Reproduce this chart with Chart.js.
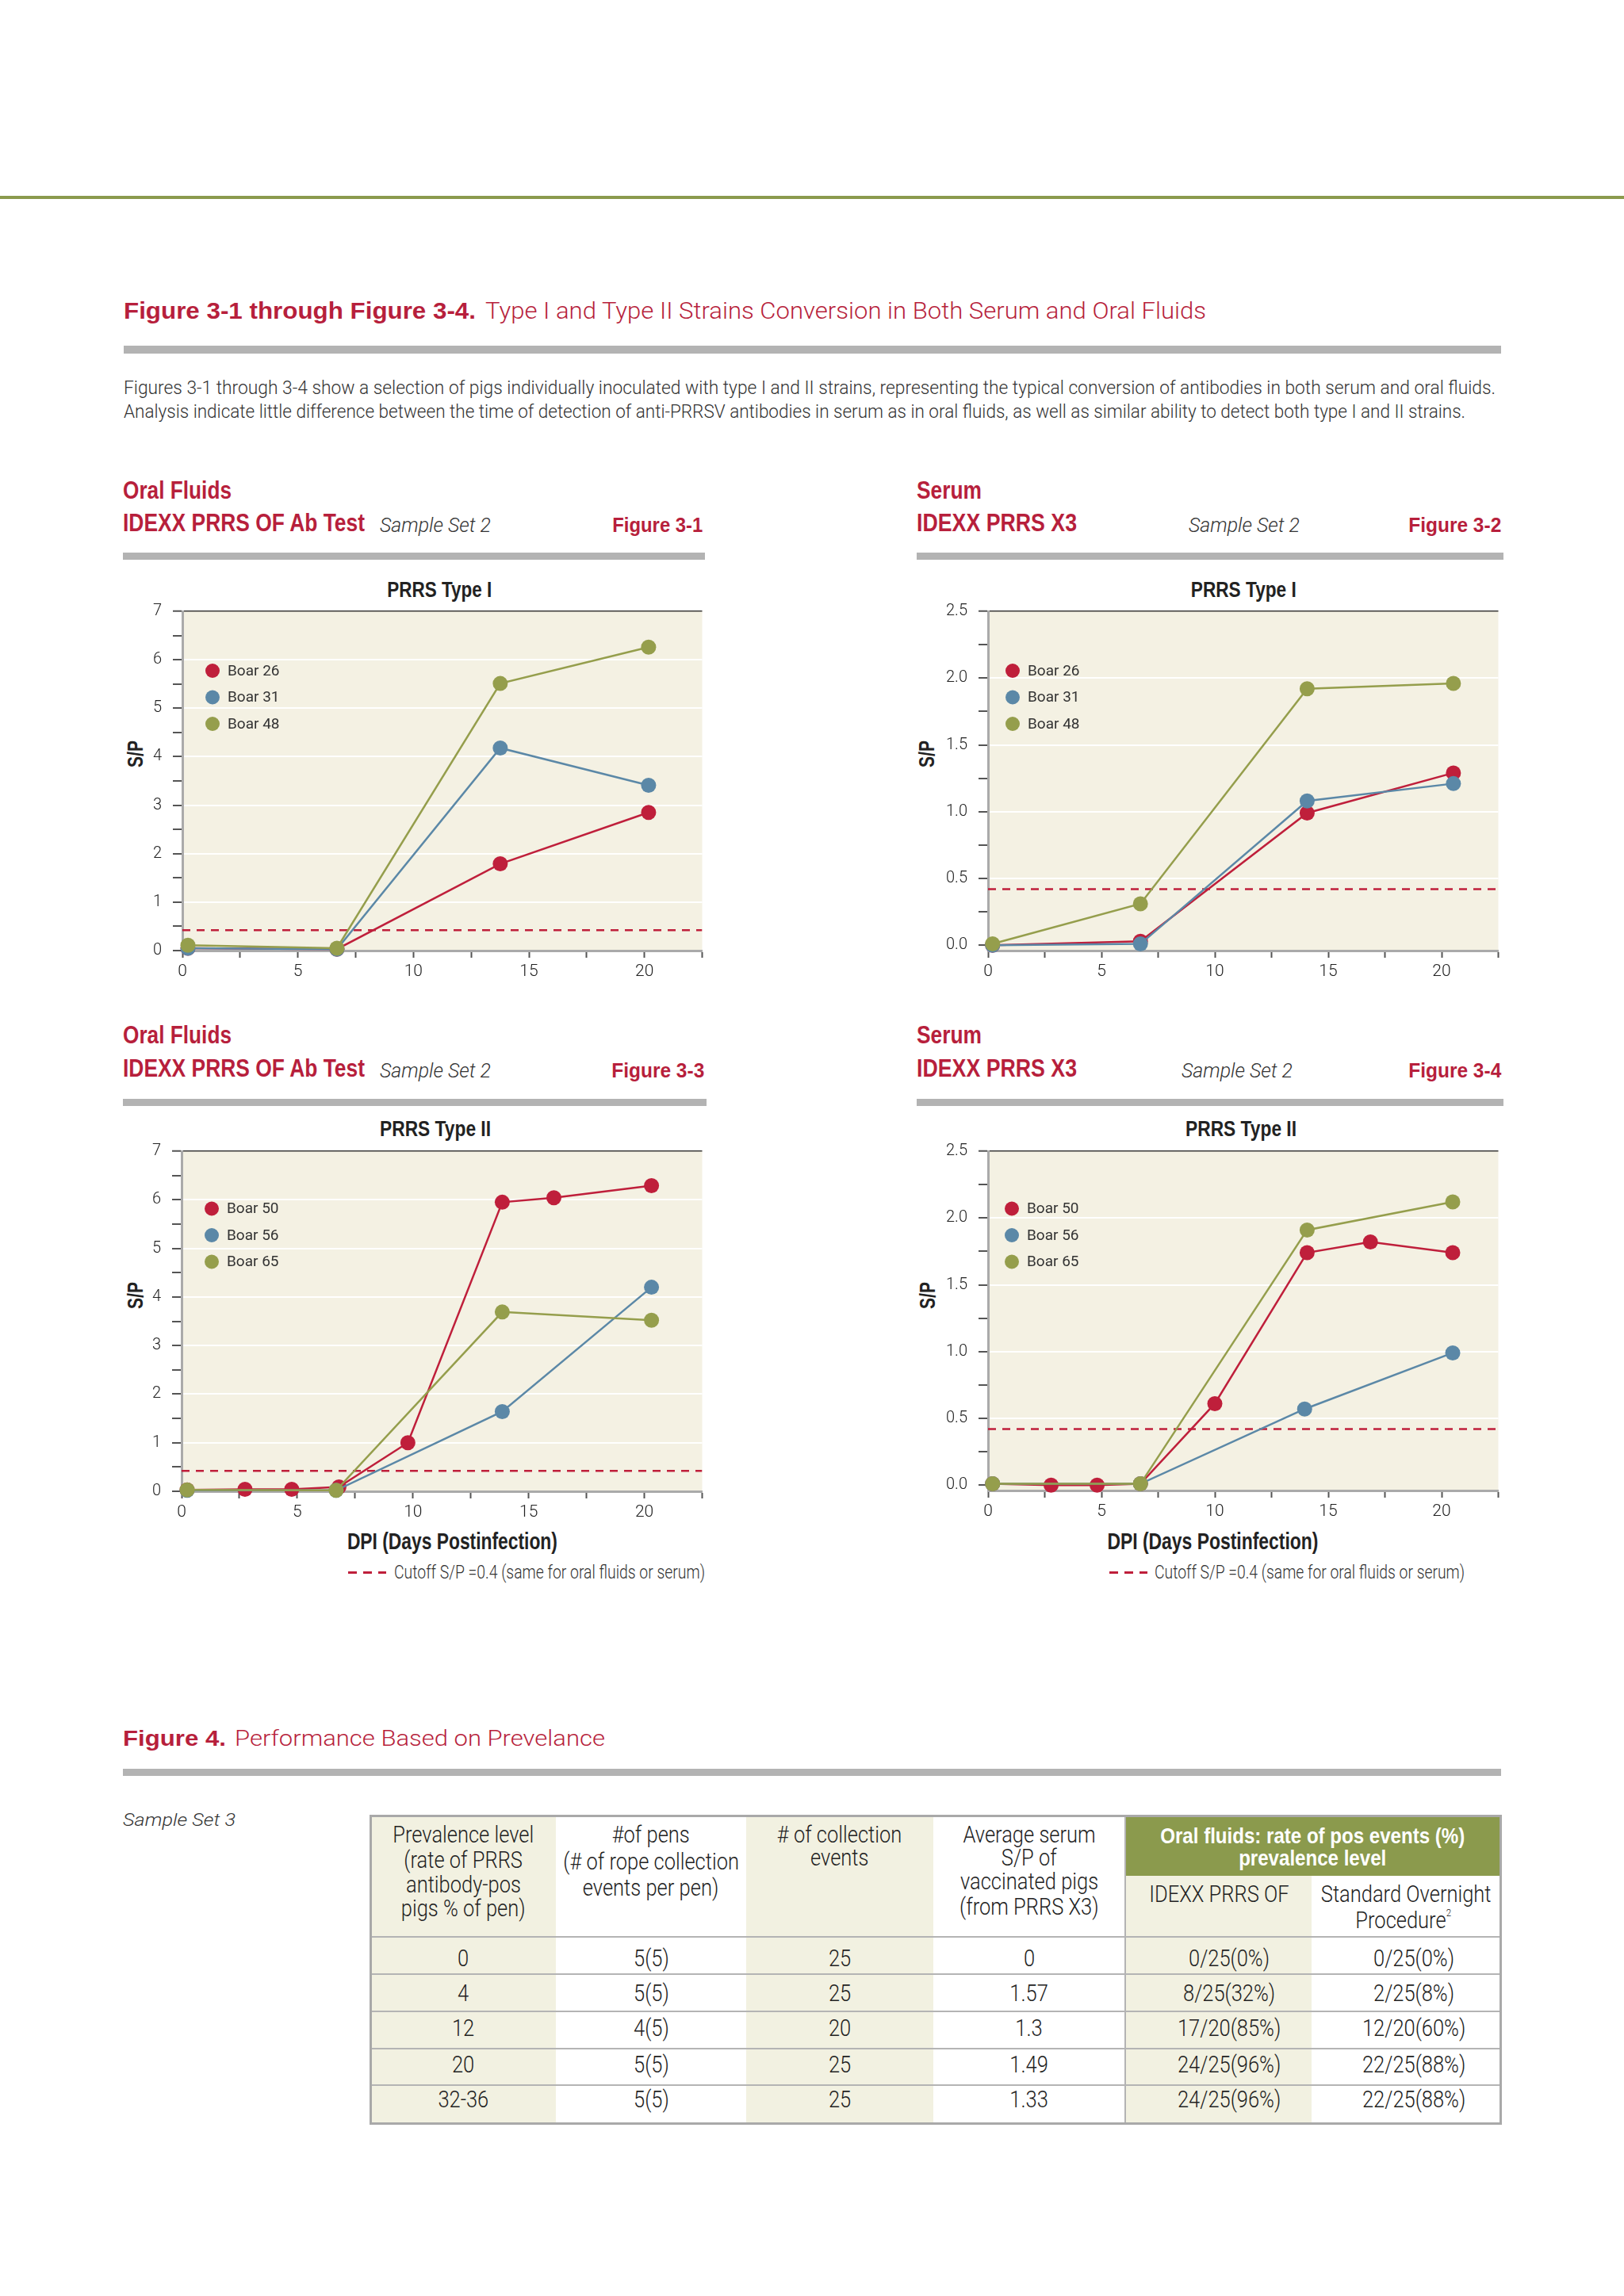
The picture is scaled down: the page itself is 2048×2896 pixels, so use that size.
<!DOCTYPE html>
<html>
<head>
<meta charset="utf-8">
<script src="https://cdn.jsdelivr.net/npm/chart.js@4.4.1/dist/chart.umd.min.js"></script>
<style>
  html, body { margin: 0; padding: 0; background: #ffffff; }
  body { width: 2048px; height: 2896px; position: relative; overflow: hidden; }
  .tx { position: absolute; white-space: nowrap; line-height: 1; }
  .blk { position: absolute; }
  canvas { position: absolute; }
</style>
</head>
<body>
<script>
// ---- data ----
// Figure 3-1: oral fluids, PRRS type I
const f31Days = [0.24, 6.69, 13.76, 20.18];
const f31Boar26 = [0.05, 0.03, 1.79, 2.85];
const f31Boar31 = [0.05, 0.03, 4.18, 3.41];
const f31Boar48 = [0.11, 0.05, 5.51, 6.26];

// Figure 3-2: serum, PRRS type I
const f32Days = [0.2, 6.72, 14.07, 20.52];
const f32Boar26 = [0.0, 0.03, 0.99, 1.29];
const f32Boar31 = [0.0, 0.01, 1.08, 1.21];
const f32Boar48 = [0.01, 0.31, 1.92, 1.96];

// Figure 3-3: oral fluids, PRRS type II
const f33Boar50Days = [0.24, 2.74, 4.76, 6.8, 9.78, 13.86, 16.09, 20.31];
const f33Boar50 = [0.03, 0.04, 0.04, 0.09, 1.0, 5.95, 6.04, 6.29];
const f33Days = [0.24, 6.68, 13.86, 20.31];
const f33Boar56 = [0.02, 0.02, 1.64, 4.2];
const f33Boar65 = [0.03, 0.02, 3.69, 3.52];

// Figure 3-4: serum, PRRS type II
const f34Boar50Days = [0.2, 2.78, 4.81, 6.72, 10.0, 14.07, 16.86, 20.49];
const f34Boar50 = [0.01, 0.0, 0.0, 0.01, 0.61, 1.74, 1.82, 1.74];
const f34Boar56Days = [0.2, 6.72, 13.96, 20.49];
const f34Boar56 = [0.01, 0.01, 0.57, 0.99];
const f34Days = [0.2, 6.72, 14.07, 20.49];
const f34Boar65 = [0.01, 0.01, 1.91, 2.12];

const cutoffSP = 0.42;

// axis labels
const dpiTickLabels = [0, 5, 10, 15, 20];
const oralTickLabels = [0, 1, 2, 3, 4, 5, 6, 7];
const serumTickLabels = [0, 0.5, 1, 1.5, 2, 2.5];

// Figure 4 table
const prevalenceLevels = ['0', '4', '12', '20', '32-36'];
const pensCounts = ['5(5)', '5(5)', '4(5)', '5(5)', '5(5)'];
const collectionEvents = ['25', '25', '20', '25', '25'];
const avgSerumSP = ['0', '1.57', '1.3', '1.49', '1.33'];
const idexxOFRate = ['0/25(0%)', '8/25(32%)', '17/20(85%)', '24/25(96%)', '24/25(96%)'];
const standardRate = ['0/25(0%)', '2/25(8%)', '12/20(60%)', '22/25(88%)', '22/25(88%)'];

// ---- colours / fonts ----
const RED_TEXT = '#b71f3c';
const C_RED = '#bf1f3b';
const C_BLUE = '#5b88a7';
const C_GREEN = '#959e4c';
const OLIVE = '#8b9a4d';
const BAR_GRAY = '#b3b3b3';
const PLOT_BG = '#f4f1e3';
const CREAM = '#f2f1e1';
const INK = '#2e2e2e';
const BOLD_FAM = '"Liberation Sans", Arial, Helvetica, sans-serif';
const LIGHT_FAM = 'Roboto, "Liberation Sans", sans-serif';

const mctx = document.createElement('canvas').getContext('2d');
function fontOf(o) {
  return `${o.style || 'normal'} ${o.weight || 300} ${o.size}px ${o.family || LIGHT_FAM}`;
}
function natural(str, o) {
  mctx.font = fontOf(o);
  return mctx.measureText(str).width;
}

function place(str, x, base, o) {
  const d = document.createElement('div');
  d.className = 'tx';
  d.style.font = fontOf(o);
  d.style.lineHeight = '1';
  d.style.color = o.color || INK;
  d.innerHTML = str;
  document.body.appendChild(d);
  const w = d.getBoundingClientRect().width;
  const s = o.width ? o.width / w : (o.scale || 1);
  const al = o.align || 'left';
  d.style.left = (al === 'left' ? x : al === 'right' ? x - w : x - w / 2) + 'px';
  d.style.top = (base - 0.845 * o.size) + 'px';
  d.style.transformOrigin = (al === 'left' ? '0%' : al === 'right' ? '100%' : '50%') + ' 50%';
  d.style.transform = `scaleX(${s})`;
  return d;
}

function placeRotated(str, cx, cy, o) {
  const d = document.createElement('div');
  d.className = 'tx';
  d.style.font = fontOf(o);
  d.style.lineHeight = '1';
  d.style.color = o.color || INK;
  d.textContent = str;
  document.body.appendChild(d);
  const w = d.getBoundingClientRect().width;
  d.style.left = cx + 'px';
  d.style.top = cy + 'px';
  d.style.transformOrigin = '0 0';
  d.style.transform = `rotate(-90deg) scaleX(${o.width / w}) translate(-50%, -50%)`;
}

function block(x, y, w, h, css) {
  const d = document.createElement('div');
  d.className = 'blk';
  d.style.left = x + 'px';
  d.style.top = y + 'px';
  d.style.width = w + 'px';
  d.style.height = h + 'px';
  Object.assign(d.style, css);
  document.body.appendChild(d);
  return d;
}

function dashSample(x1, x2, y) {
  block(x1, y - 1, x2 - x1, 3, {
    background: `repeating-linear-gradient(90deg, ${C_RED} 0 11px, transparent 11px 19px)`
  });
}

// ---- page furniture ----
block(0, 247, 2048, 4, {background: OLIVE});
place('Figure 3-1 through Figure 3-4.', 156, 403, {size: 29, weight: 700, family: BOLD_FAM, color: RED_TEXT, width: 444});
place('Type I and Type II Strains Conversion in Both Serum and Oral Fluids', 612, 403, {size: 29, weight: 300, color: RED_TEXT, width: 909});
block(156, 436, 1737, 10, {background: BAR_GRAY});
place('Figures 3-1 through 3-4 show a selection of pigs individually inoculated with type I and II strains, representing the typical conversion of antibodies in both serum and oral fluids.',
  156, 497, {size: 24, color: '#333', width: 1730});
place('Analysis indicate little difference between the time of detection of anti-PRRSV antibodies in serum as in oral fluids, as well as similar ability to detect both type I and II strains.',
  156, 527, {size: 24, color: '#333', width: 1692});

// chart headers
function chartHeader(h) {
  place(h.line1, h.x, h.base1, {size: 32, weight: 700, family: BOLD_FAM, color: RED_TEXT, width: h.w1});
  place(h.line2, h.x, h.base2, {size: 31, weight: 700, family: BOLD_FAM, color: RED_TEXT, width: h.w2});
  place('Sample Set 2', h.sampleX, h.base2 + 1, {size: 25, style: 'italic', color: '#333', width: 140});
  place(h.fig, h.right, h.base2 + 1, {size: 26, weight: 700, family: BOLD_FAM, color: RED_TEXT, width: h.figW, align: 'right'});
  block(h.x, h.barY, h.right - h.x + 3, 9, {background: BAR_GRAY});
  place(h.title, h.titleX, h.titleBase, {size: 27, weight: 700, family: BOLD_FAM, color: '#222', width: h.titleW, align: 'center'});
  placeRotated('S/P', h.spX, h.spY, {size: 27, weight: 700, family: BOLD_FAM, color: '#222', width: 34});
}

chartHeader({x: 155, right: 886, line1: 'Oral Fluids', w1: 137, line2: 'IDEXX PRRS OF Ab Test', w2: 305,
  base1: 629, base2: 670, sampleX: 479, fig: 'Figure 3-1', figW: 114, barY: 697,
  title: 'PRRS Type I', titleX: 554, titleBase: 754, titleW: 132, spX: 171, spY: 951});
chartHeader({x: 1156, right: 1893, line1: 'Serum', w1: 82, line2: 'IDEXX PRRS X3', w2: 202,
  base1: 629, base2: 670, sampleX: 1499, fig: 'Figure 3-2', figW: 117, barY: 697,
  title: 'PRRS Type I', titleX: 1568, titleBase: 754, titleW: 133, spX: 1169, spY: 951});
chartHeader({x: 155, right: 888, line1: 'Oral Fluids', w1: 137, line2: 'IDEXX PRRS OF Ab Test', w2: 305,
  base1: 1316, base2: 1358, sampleX: 479, fig: 'Figure 3-3', figW: 117, barY: 1386,
  title: 'PRRS Type II', titleX: 549, titleBase: 1434, titleW: 140, spX: 171, spY: 1634});
chartHeader({x: 1156, right: 1893, line1: 'Serum', w1: 82, line2: 'IDEXX PRRS X3', w2: 202,
  base1: 1316, base2: 1358, sampleX: 1490, fig: 'Figure 3-4', figW: 117, barY: 1386,
  title: 'PRRS Type II', titleX: 1565, titleBase: 1434, titleW: 140, spX: 1170, spY: 1634});

// x-axis titles + cutoff key under the lower charts
place('DPI (Days Postinfection)', 570, 1955, {size: 29, weight: 700, family: BOLD_FAM, color: '#222', width: 265, align: 'center'});
place('DPI (Days Postinfection)', 1529, 1955, {size: 29, weight: 700, family: BOLD_FAM, color: '#222', width: 266, align: 'center'});
dashSample(439, 487, 1983);
place('Cutoff S/P =0.4 (same for oral fluids or serum)', 497, 1991, {size: 24, color: '#333', width: 392});
dashSample(1399, 1447, 1983);
place('Cutoff S/P =0.4 (same for oral fluids or serum)', 1456, 1991, {size: 24, color: '#333', width: 391});

// ---- Chart.js plugins ----
const plotBackground = {
  id: 'plotBackground',
  beforeDraw(chart) {
    const {ctx, chartArea: a} = chart;
    ctx.save();
    ctx.fillStyle = PLOT_BG;
    ctx.fillRect(a.left, a.top, a.right - a.left, a.bottom - a.top);
    ctx.restore();
  }
};

const boarLegend = {
  id: 'boarLegend',
  afterDraw(chart, args, opts) {
    const {ctx, chartArea: a} = chart;
    ctx.save();
    chart.data.datasets.filter(d => !d.isCutoff).forEach((d, i) => {
      const cx = a.left + opts.dx;
      const cy = a.top + opts.dy + i * opts.gap;
      ctx.beginPath();
      ctx.arc(cx, cy, 9, 0, Math.PI * 2);
      ctx.fillStyle = d.borderColor;
      ctx.fill();
      ctx.font = '400 19px Roboto';
      ctx.fillStyle = '#333';
      ctx.textBaseline = 'middle';
      ctx.fillText(d.label, cx + 19, cy + 1);
    });
    ctx.restore();
  }
};

function near(list, v) {
  return list.some(t => Math.abs(t - v) < 1e-6);
}

function makeChart(spec) {
  const bx = spec.box, p = spec.plot;
  const c = document.createElement('canvas');
  c.width = bx.w;
  c.height = bx.h;
  c.style.left = bx.x + 'px';
  c.style.top = bx.y + 'px';
  document.body.appendChild(c);

  const n = spec.series.length;
  const datasets = spec.series.map((s, i) => ({
    label: s.label,
    data: s.days.map((d, k) => ({x: d, y: s.values[k]})),
    borderColor: s.color,
    backgroundColor: s.color,
    pointBackgroundColor: s.color,
    pointBorderWidth: 0,
    pointRadius: 9.5,
    pointHoverRadius: 9.5,
    borderWidth: 2.5,
    tension: 0,
    clip: false,
    order: n - i
  }));
  datasets.push({
    label: 'Cutoff',
    isCutoff: true,
    data: [{x: 0, y: cutoffSP}, {x: 22.5, y: cutoffSP}],
    borderColor: C_RED,
    borderWidth: 2.5,
    borderDash: [10, 8],
    pointRadius: 0,
    order: n + 1
  });

  new Chart(c, {
    type: 'line',
    data: {datasets},
    options: {
      responsive: false,
      animation: false,
      devicePixelRatio: 1,
      layout: {padding: {left: 0, top: p.t - bx.y, right: bx.x + bx.w - p.r, bottom: 0}},
      plugins: {
        legend: {display: false},
        tooltip: {enabled: false},
        boarLegend: spec.legend
      },
      scales: {
        x: {
          type: 'linear',
          min: 0,
          max: 22.5,
          afterFit: s => { s.height = bx.y + bx.h - p.b; },
          border: {display: true, color: '#aaaaaa', width: 3},
          grid: {drawOnChartArea: false, drawTicks: true, tickLength: 9, tickColor: '#555', tickWidth: 2},
          ticks: {
            stepSize: 2.5, includeBounds: false, autoSkip: false, maxRotation: 0, minRotation: 0, padding: 5,
            color: '#222', font: {family: 'Roboto', weight: 300, size: 21},
            callback: v => near(dpiTickLabels, v) ? String(v) : ''
          }
        },
        y: {
          type: 'linear',
          min: spec.yMin,
          max: spec.yMax,
          afterFit: s => { s.width = p.l - bx.x; },
          border: {display: true, color: '#aaaaaa', width: 3},
          grid: {
            drawTicks: true, tickLength: 12, tickColor: '#555', tickWidth: 2,
            color: ctx => {
              const v = ctx.tick ? ctx.tick.value : null;
              if (v === null) return 'transparent';
              if (Math.abs(v - spec.yMax) < 1e-6) return '#3a3a3a';
              if (Math.abs(v) < 1e-6) return 'transparent';
              return near(spec.yLabels, v) ? 'rgba(255,255,255,0.95)' : 'transparent';
            },
            lineWidth: ctx => (ctx.tick && Math.abs(ctx.tick.value - spec.yMax) < 1e-6) ? 1.5 : 2
          },
          ticks: {
            stepSize: spec.yStep, includeBounds: false, autoSkip: false, padding: 14,
            color: '#222', font: {family: 'Roboto', weight: 300, size: 20},
            callback: v => near(spec.yLabels, v) ? spec.fmt(v) : ''
          }
        }
      }
    },
    plugins: [plotBackground, boarLegend]
  });
}

const oralFmt = v => String(Math.round(v));
const serumFmt = v => v.toFixed(1);

makeChart({
  box: {x: 150, y: 745, w: 745, h: 505}, plot: {l: 230, t: 770, r: 889, b: 1199},
  yMin: 0, yMax: 7, yStep: 0.5, yLabels: oralTickLabels, fmt: oralFmt,
  legend: {dx: 38, dy: 75, gap: 33.5},
  series: [
    {label: 'Boar 26', color: C_RED, days: f31Days, values: f31Boar26},
    {label: 'Boar 31', color: C_BLUE, days: f31Days, values: f31Boar31},
    {label: 'Boar 48', color: C_GREEN, days: f31Days, values: f31Boar48}
  ]
});

makeChart({
  box: {x: 1150, y: 745, w: 749, h: 505}, plot: {l: 1246, t: 770, r: 1893, b: 1199},
  yMin: -0.04, yMax: 2.5, yStep: 0.25, yLabels: serumTickLabels, fmt: serumFmt,
  legend: {dx: 31, dy: 75, gap: 33.5},
  series: [
    {label: 'Boar 26', color: C_RED, days: f32Days, values: f32Boar26},
    {label: 'Boar 31', color: C_BLUE, days: f32Days, values: f32Boar31},
    {label: 'Boar 48', color: C_GREEN, days: f32Days, values: f32Boar48}
  ]
});

makeChart({
  box: {x: 150, y: 1426, w: 745, h: 505}, plot: {l: 229, t: 1451, r: 889, b: 1881},
  yMin: 0, yMax: 7, yStep: 0.5, yLabels: oralTickLabels, fmt: oralFmt,
  legend: {dx: 38, dy: 72.5, gap: 33.5},
  series: [
    {label: 'Boar 50', color: C_RED, days: f33Boar50Days, values: f33Boar50},
    {label: 'Boar 56', color: C_BLUE, days: f33Days, values: f33Boar56},
    {label: 'Boar 65', color: C_GREEN, days: f33Days, values: f33Boar65}
  ]
});

makeChart({
  box: {x: 1150, y: 1426, w: 749, h: 505}, plot: {l: 1246, t: 1451, r: 1893, b: 1880},
  yMin: -0.04, yMax: 2.5, yStep: 0.25, yLabels: serumTickLabels, fmt: serumFmt,
  legend: {dx: 30, dy: 72.5, gap: 33.5},
  series: [
    {label: 'Boar 50', color: C_RED, days: f34Boar50Days, values: f34Boar50},
    {label: 'Boar 56', color: C_BLUE, days: f34Boar56Days, values: f34Boar56},
    {label: 'Boar 65', color: C_GREEN, days: f34Days, values: f34Boar65}
  ]
});

// ---- Figure 4 table ----
place('Figure 4.', 155, 2203, {size: 28, weight: 700, family: BOLD_FAM, color: RED_TEXT, width: 130});
place('Performance Based on Prevelance', 296, 2203, {size: 28, weight: 300, color: RED_TEXT, width: 467});
block(155, 2231, 1738, 9, {background: BAR_GRAY});
place('Sample Set 3', 155, 2304, {size: 22, style: 'italic', color: '#333', width: 142});

const colX = [467, 701, 941, 1177, 1419, 1654, 1892];
const tTop = 2290, tHead = 2443, tBottom = 2678;
const rowLines = [2490, 2537, 2584, 2630];
const colBg = [CREAM, '#ffffff', CREAM, '#ffffff', CREAM, '#ffffff'];
colBg.forEach((bg, i) => block(colX[i], tTop, colX[i + 1] - colX[i], tBottom - tTop, {background: bg}));
block(colX[4], tTop, colX[6] - colX[4], 76, {background: OLIVE});
block(colX[0], tHead - 1, colX[6] - colX[0], 2, {background: '#b4b4b4'});
rowLines.forEach(y => block(colX[0], y - 1, colX[6] - colX[0], 2, {background: '#b4b4b4'}));
block(colX[4] - 1, tTop, 2, tBottom - tTop, {background: '#b4b4b4'});
block(colX[0] - 1, tTop - 1, colX[6] - colX[0] + 3, tBottom - tTop + 3,
  {border: '3px solid #a9a9a9', boxSizing: 'border-box'});

const TS = 29;
const tScale = 178 / natural('Prevalence level', {size: TS});
const bScale = 384 / natural('Oral fluids: rate of pos events (%)', {size: 28, weight: 700, family: BOLD_FAM});
function cellText(str, cx, base) {
  place(str, cx, base, {size: TS, color: '#222', scale: tScale, align: 'center'});
}
function cellBold(str, cx, base) {
  place(str, cx, base, {size: 28, weight: 700, family: BOLD_FAM, color: '#ffffff', scale: bScale, align: 'center'});
}

const c1 = 584, c2 = 821, c3 = 1059, c4 = 1298, c5 = 1537, c6 = 1773;
['Prevalence level', '(rate of PRRS', 'antibody-pos', 'pigs % of pen)'].forEach((t, i) => cellText(t, c1, [2325, 2357, 2388, 2418][i]));
['#of pens', '(# of rope collection', 'events per pen)'].forEach((t, i) => cellText(t, c2, [2325, 2359, 2392][i]));
['# of collection', 'events'].forEach((t, i) => cellText(t, c3, [2325, 2354][i]));
['Average serum', 'S/P of', 'vaccinated pigs', '(from PRRS X3)'].forEach((t, i) => cellText(t, c4, [2325, 2354, 2384, 2416][i]));
cellBold('Oral fluids: rate of pos events (%)', 1655, 2326);
cellBold('prevalence level', 1655, 2354);
cellText('IDEXX PRRS OF', c5, 2400);
cellText('Standard Overnight', c6, 2400);
cellText('Procedure<span style="font-size:0.45em;position:relative;top:-1.2em">2</span>', 1770, 2433);

const rowBase = [2481, 2525, 2569, 2615, 2659];
rowBase.forEach((b, r) => {
  cellText(prevalenceLevels[r], c1, b);
  cellText(pensCounts[r], c2, b);
  cellText(collectionEvents[r], c3, b);
  cellText(avgSerumSP[r], c4, b);
  cellText(idexxOFRate[r], 1550, b);
  cellText(standardRate[r], 1783, b);
});
</script>
</body>
</html>
